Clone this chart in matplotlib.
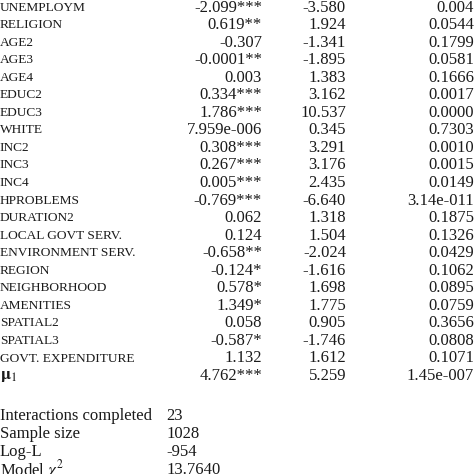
import matplotlib
matplotlib.use("Agg")
import matplotlib.pyplot as plt

variables = ["UNEMPLOYM", "RELIGION", "AGE2", "AGE3", "AGE4", "EDUC2", "EDUC3", "WHITE",
             "INC2", "INC3", "INC4", "HPROBLEMS", "DURATION2", "LOCAL GOVT SERV.",
             "ENVIRONMENT SERV.", "REGION", "NEIGHBORHOOD", "AMENITIES", "SPATIAL2",
             "SPATIAL3", "GOVT. EXPENDITURE", r"$\mathbf{\mu}_1$"]
coefs = ["-2.099***", "0.619**", "-0.307", "-0.0001**", "0.003", "0.334***", "1.786***",
         "7.959e-006", "0.308***", "0.267***", "0.005***", "-0.769***", "0.062", "0.124",
         "-0.658**", "-0.124*", "0.578*", "1.349*", "0.058", "-0.587*", "1.132", "4.762***"]
tstats = ["-3.580", "1.924", "-1.341", "-1.895", "1.383", "3.162", "10.537", "0.345",
          "3.291", "3.176", "2.435", "-6.640", "1.318", "1.504", "-2.024", "-1.616",
          "1.698", "1.775", "0.905", "-1.746", "1.612", "5.259"]
pvals = ["0.004", "0.0544", "0.1799", "0.0581", "0.1666", "0.0017", "0.0000", "0.7303",
         "0.0010", "0.0015", "0.0149", "3.14e-011", "0.1875", "0.1326", "0.0429", "0.1062",
         "0.0895", "0.0759", "0.3656", "0.0808", "0.1071", "1.45e-007"]
stat_labels = ["Interactions completed", "Sample size", "Log-L", r"Model $\chi^2$"]
stat_values = ["23", "1028", "-954", "13.7640"]

W = H = 474
plt.rcParams["mathtext.fontset"] = "stix"
fig = plt.figure(figsize=(4.74, 4.74), dpi=100)
fig.patch.set_facecolor("white")
ax = fig.add_axes([0, 0, 1, 1])
ax.set_xlim(0, W)
ax.set_ylim(H, 0)
ax.axis("off")

fam = "Liberation Serif"
col = "#1a1a1a"
top, step = 7.5, 17.55
for i, (v, c, t, p) in enumerate(zip(variables, coefs, tstats, pvals)):
    y = top + i * step
    ax.text(0, y, v, family=fam, fontsize=9.6 if i < 21 else 12.5, va="center", ha="left", color=col)
    ax.text(262, y, c, family=fam, fontsize=12, va="center", ha="right", color=col)
    ax.text(346, y, t, family=fam, fontsize=12, va="center", ha="right", color=col)
    ax.text(474, y, p, family=fam, fontsize=12, va="center", ha="right", color=col)

for i, (l, v) in enumerate(zip(stat_labels, stat_values)):
    y = 416 + i * 18
    ax.text(0, y, l, family=fam, fontsize=12, va="center", ha="left", color=col)
    ax.text(166, y, v, family=fam, fontsize=12, va="center", ha="left", color=col)

fig.savefig("out.png", dpi=100, facecolor="white")
